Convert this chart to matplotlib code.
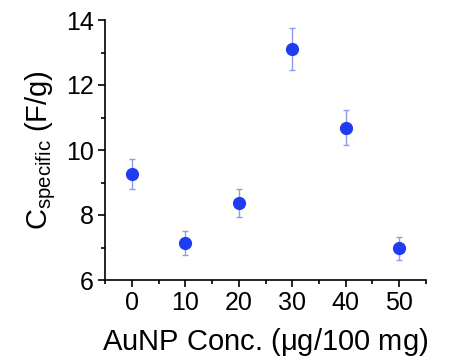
import matplotlib
matplotlib.use('Agg')
import matplotlib.pyplot as plt
from matplotlib.ticker import MultipleLocator

plt.rcParams['font.family'] = ['Liberation Sans', 'DejaVu Sans']
plt.rcParams['mathtext.fontset'] = 'custom'
plt.rcParams['mathtext.rm'] = 'Liberation Sans'
plt.rcParams['mathtext.it'] = 'Liberation Sans'

conc = [0, 10, 20, 30, 40, 50]
cap = [9.26, 7.14, 8.37, 13.11, 10.69, 6.97]
err = [0.47, 0.36, 0.42, 0.65, 0.54, 0.35]

fig = plt.figure(figsize=(4.74, 3.63), dpi=100)
ax = fig.add_axes([105 / 474, 1 - 280 / 363, (426 - 105) / 474, (280 - 20) / 363])

ax.errorbar(conc, cap, yerr=err, fmt='o', color='#1f3cf0', ms=8.5,
            ecolor='#8c9cf0', elinewidth=1, capsize=2.5, capthick=1)

ax.set_xlim(-5, 55)
ax.set_ylim(6, 14)
ax.xaxis.set_major_locator(MultipleLocator(10))
ax.xaxis.set_minor_locator(MultipleLocator(5))
ax.yaxis.set_major_locator(MultipleLocator(2))
ax.yaxis.set_minor_locator(MultipleLocator(1))

for s in ['top', 'right']:
    ax.spines[s].set_visible(False)
for s in ['left', 'bottom']:
    ax.spines[s].set_linewidth(1.2)
ax.tick_params(which='major', direction='out', length=5, width=1.2, labelsize=18, pad=3)
ax.tick_params(which='minor', direction='out', length=3, width=1.2)

ax.set_xlabel('AuNP Conc. ($\\mu$g/100 mg)', fontsize=21, labelpad=8)
ax.set_ylabel('C$_{\\mathrm{specific}}$ (F/g)', fontsize=21, labelpad=6)

fig.savefig('out.png', dpi=100)
